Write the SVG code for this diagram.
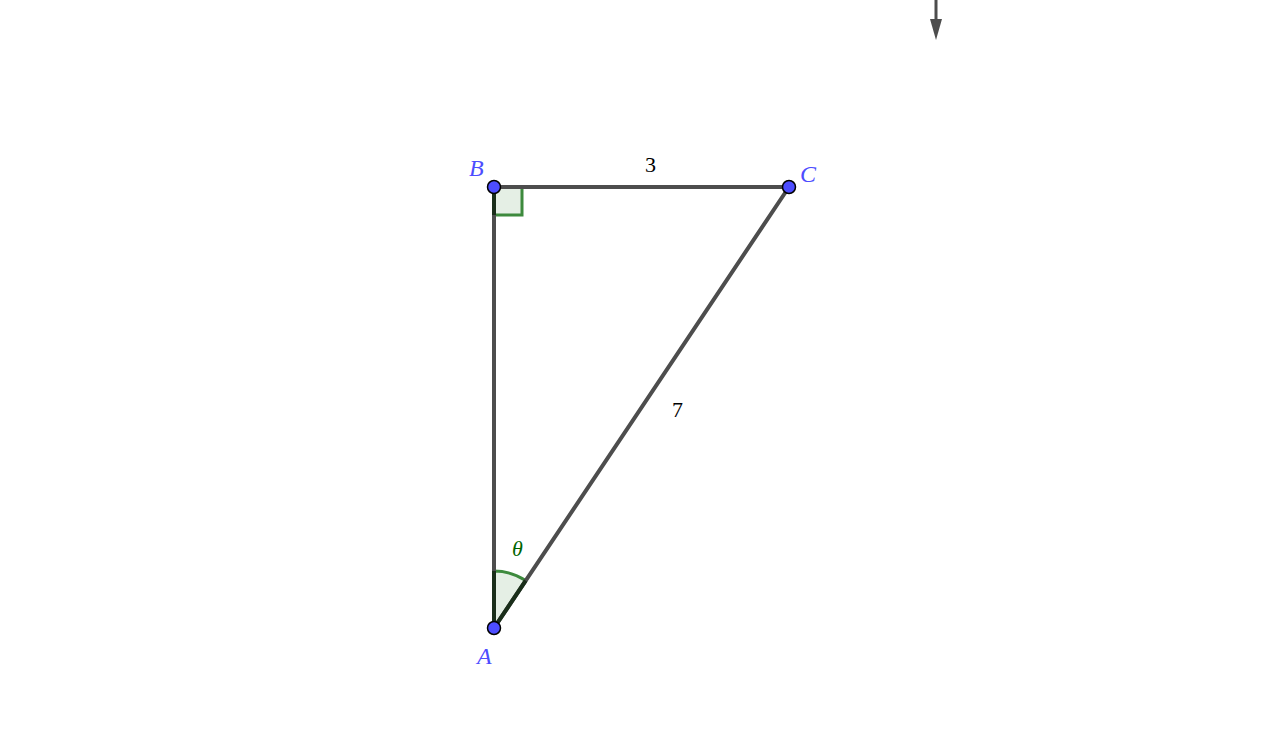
<svg xmlns="http://www.w3.org/2000/svg" width="1280" height="735" viewBox="0 0 1280 735">
<style>
.seg{stroke:#4d4d4d;stroke-width:4;fill:none;stroke-linecap:round}
.ang{stroke:#3d8a3d;stroke-width:3;fill:#e5efe5}
.pt{fill:#4d4dff;stroke:#000;stroke-width:1.5}
.lbl{font-family:"Liberation Serif",serif;font-style:italic;font-size:24px;fill:#4d4dff}
.num{font-family:"Liberation Serif",serif;font-size:22px;fill:#000}
</style>
<rect width="1280" height="735" fill="#fff"/>
<g id="arrow">
<line x1="936" y1="0" x2="936" y2="22" stroke="#4d4d4d" stroke-width="3"/>
<polygon points="930,19 942,19 936,40" fill="#4d4d4d"/>
</g>
<g id="angles">
<path class="ang" d="M494,187 L522,187 L522,215 L494,215 Z"/>
<path class="ang" d="M494,628 L494,571 A57,57 0 0 1 525.7,580.6 Z"/>
</g>
<g id="connectors">
<line class="seg" x1="494" y1="187" x2="789" y2="187"/>
<line class="seg" x1="494" y1="187" x2="494" y2="628"/>
<line class="seg" x1="494" y1="628" x2="789" y2="187"/>
<line x1="494" y1="187" x2="494" y2="215" stroke="#1a2e1a" stroke-width="4"/>
<line x1="494" y1="571" x2="494" y2="628" stroke="#1a2e1a" stroke-width="4"/>
<line x1="494" y1="628" x2="525.7" y2="580.6" stroke="#1a2e1a" stroke-width="4"/>
</g>
<g id="A"><circle class="pt" cx="494" cy="628" r="6.5"/><text class="lbl" x="477" y="664">A</text></g>
<g id="B"><circle class="pt" cx="494" cy="187" r="6.5"/><text class="lbl" x="469" y="176">B</text></g>
<g id="C"><circle class="pt" cx="789" cy="187" r="6.5"/><text class="lbl" x="800" y="182">C</text></g>
<g id="labels">
<text class="num" x="645" y="172">3</text>
<text class="num" x="672" y="417">7</text>
<text x="512" y="556" font-family="'Liberation Serif',serif" font-style="italic" font-size="22" fill="#006400">θ</text>
</g>
</svg>
